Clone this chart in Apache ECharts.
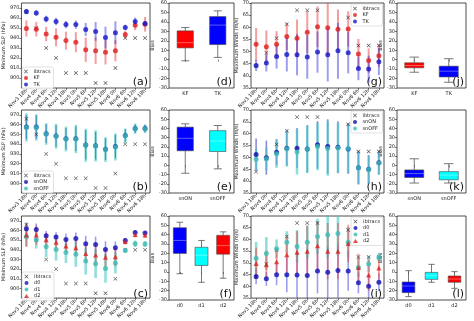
<!DOCTYPE html>
<html><head><meta charset="utf-8">
<script src="https://cdn.jsdelivr.net/npm/echarts@6/dist/echarts.min.js"></script>
<style>html,body{margin:0;padding:0;background:#fff}#chart{width:474px;height:321px}</style>
</head><body><div id="chart"></div>
<script>
// Forecast times (6-hourly)
const times = ['Nov3 18h','Nov4 0h','Nov4 6h','Nov4 12h','Nov4 18h','Nov5 0h','Nov5 6h','Nov5 12h','Nov5 18h','Nov6 0h','Nov6 6h','Nov6 12h','Nov6 18h'];

// Tick values
const slpTicks = [900, 910, 920, 930, 940, 950, 960, 970];
const windTicks = [35, 40, 45, 50, 55, 60, 65, 70];
const biasTicks = [-30, -20, -10, 0, 10, 20, 30, 40, 50, 60];

// Best-track (IBTrACS)
const ibtracsSlp = [966, 950, 930, 920, 905, 905, 905, 895, 895, 910, 940, 940, 940];
const ibtracsWind = [44, 49.5, 55.5, 61.3, 67, 67, 67, null, null, 64, 52.5, 52.5, 52.5];

// Minimum SLP ensemble means and spreads
const kfSlp = [949.5, 948.8, 944, 940.7, 937.4, 935.8, 928.3, 927.3, 925.7, 927.3, 943.6, 952.7, 953.7];
const kfSlpSd = [8.1, 7.3, 7.3, 9, 9, 10, 12.2, 13.3, 12.2, 10.6, 3.3, 4.9, 7.3];
const tkSlp = [966.4, 965, 959, 956.6, 953.4, 953.4, 948.5, 946.6, 940.4, 945.3, 950.5, 956.6, 954.4];
const tkSlpSd = [2.8, 2.8, 3.3, 3.7, 3.7, 4.1, 6.5, 9.4, 10.9, 11.4, 2.8, 3.9, 2.6];

const snOnSlp = [957.5, 957.5, 950.8, 948.3, 945.6, 945.5, 939.2, 938.4, 934.8, 937.5, 948.9, 956, 956];
const snOnSlpSd = [12.5, 12, 9.5, 11, 11, 12.5, 15, 14, 11, 12, 6.5, 4.5, 4];
const snOffSlp = [957.1, 957.1, 950.4, 948, 945.3, 945.3, 938.9, 938.2, 934.5, 937.2, 948.7, 955.8, 955.8];
const snOffSlpSd = [14.4, 13.5, 11, 12.7, 12.7, 14.4, 16.9, 16, 12.7, 13.9, 7.3, 5.1, 4.2];

const d0Slp = [961.8, 961.1, 954.6, 953.2, 950.6, 951.6, 946.3, 945.4, 940.4, 942.1, 949.6, 957.8, 957.5];
const d0SlpSd = [6.6, 6.1, 4.9, 4.9, 6.2, 6.2, 8.2, 8.2, 8.5, 6.6, 2.8, 2.5, 2];
const d1Slp = [953.6, 950.3, 943.1, 940.4, 937.1, 935.5, 928.3, 925.6, 920.7, 926.3, 939.4, 946.3, 946];
const d1SlpSd = [9.9, 9, 10.7, 11.5, 10.7, 13.1, 14, 14.8, 14.8, 10.7, 2.5, 3.3, 3];
const d2Slp = [955.2, 955.2, 950.3, 947.7, 944, 942.1, 936.2, 934.5, 932.2, 932.9, 948.6, 955.9, 955.2];
const d2SlpSd = [12.3, 9.9, 7.4, 7.4, 7.4, 8.2, 9, 10.7, 9.9, 9.9, 3.3, 3, 2.6];

// Maximum wind ensemble means and spreads
const kfWind = [53, 52, 53, 56.2, 55.5, 58, 60.2, 59.8, 59.2, 59.3, 49, 46.3, 48.3];
const kfWindSd = [6.7, 6.7, 5.4, 5.6, 7.7, 8.6, 8.4, 11, 8.1, 7.3, 6.2, 5, 4.6];
const tkWind = [44.3, 45.3, 48, 48.8, 48.7, 47.8, 49.8, 48.7, 50.3, 49.5, 43, 42.8, 45.8];
const tkWindSd = [2.3, 3.5, 5, 7, 8.5, 9, 8.5, 11, 11.5, 8.5, 4.8, 5.5, 5.5];

const snOnWind = [51.2, 49.9, 52.2, 53.9, 53.9, 53.6, 55.3, 54.6, 54.3, 53.6, 45.7, 45, 47.8];
const snOnWindSd = [6.8, 7.2, 5.5, 7.5, 8.5, 10, 10, 11.5, 11, 10.5, 7, 6, 5];
const snOffWind = [49.2, 49.4, 51.6, 53.7, 52.3, 53.5, 54.6, 53.8, 54, 53.8, 45.6, 44.9, 47.7];
const snOffWindSd = [4.5, 4.8, 6, 7.5, 9.5, 10, 10, 11.5, 10.5, 10.5, 7, 6, 5];

const d0Wind = [44.2, 43.2, 45, 45, 44.8, 44.6, 46.5, 46, 46.8, 46.6, 41.5, 40, 41.8];
const d0WindSd = [3.3, 3, 4.5, 7.5, 10, 10.5, 9.5, 11, 11.5, 8.5, 4.5, 5, 3.8];
const d1Wind = [52, 54, 56, 58.8, 57, 58.8, 61.3, 62, 62.5, 58.8, 48, 49.5, 52.3];
const d1WindSd = [7, 7, 4, 4.7, 7, 7, 7.5, 10, 9.5, 6.5, 4, 3.5, 2];
const d2Wind = [49.8, 49.2, 50.5, 53.5, 54.5, 55, 57.3, 55, 55, 58.3, 48, 44.8, 47.8];
const d2WindSd = [6.7, 6, 5.5, 7.5, 9, 11, 10.5, 12, 12, 8, 6, 6.7, 4.8];

// Bias box statistics: [low whisker, Q1, median, Q3, high whisker]
const cuCats = ['KF', 'TK'];
const snCats = ['snON', 'snOFF'];
const dCats = ['d0', 'd1', 'd2'];
const slpBiasCu = [[-1.2, 12.5, 18, 30.5, 34], [2.4, 16, 36.6, 45.6, 51.7]];
const slpBiasCuOut = [[0, -15.5]];
const slpBiasSn = [[-8.6, 15.8, 29.3, 41.4, 45], [-3.8, 15, 26.3, 37.6, 43.2]];
const slpBiasD = [[-1.8, 19.9, 33.8, 47.4, 53.3], [-11, 7, 18, 26.5, 33.8], [-6.6, 19.1, 28.3, 39.3, 43]];
const windBiasCu = [[-13.3, -8.6, -6.2, -3.3, 2.7], [-23.9, -18.3, -12.2, -6.9, 1]];
const windBiasCuOut = [[0, 9.1]];
const windBiasSn = [[-19.2, -13.2, -8.9, -5, 7.1], [-19.2, -15.7, -10.7, -6.8, 1.8]];
const windBiasD = [[-26.4, -22.1, -15, -10.7, 1.4], [-11, -7.9, -3.6, -0.4, 8.2], [-17.5, -11, -7.5, -4.3, 0.4]];
const windBiasDOut = [[2, 6.4]];

// ---- styling ----
const FONT = 'DejaVu Sans';
const INK = '#222';
const RED = '#e01e1e', RED_BAR = 'rgba(238,60,60,0.5)';
const BLUE = '#1616c8', BLUE_BAR = 'rgba(40,40,220,0.45)';
const TEAL = '#3dbdb5', TEAL_BAR = 'rgba(70,200,195,0.6)';
const BOX_RED = '#ff0000', BOX_BLUE = '#0000ff', BOX_CYAN = '#00ffff';
const CROSS = 'path://M1,0L5,4L9,0L10,1L6,5L10,9L9,10L5,6L1,10L0,9L4,5L0,1Z';

const grids = [], xAxes = [], yAxes = [], series = [], legends = [], graphics = [];

function addPanel(rect, cats, rotate, yMin, yMax, ticks, yName, nameGap) {
  grids.push(Object.assign({ show: true, borderColor: INK, borderWidth: 0.8, containLabel: false }, rect));
  const g = grids.length - 1;
  xAxes.push({
    type: 'category', gridIndex: g, data: cats, boundaryGap: true,
    axisLine: { show: false },
    axisTick: { show: true, alignWithLabel: true, length: 2, lineStyle: { color: INK, width: 0.6 } },
    axisLabel: { interval: 0, rotate: rotate, fontSize: 5, color: INK, margin: rotate ? 2 : 3, fontFamily: FONT },
    splitLine: { show: false }
  });
  yAxes.push({
    type: 'value', gridIndex: g, min: yMin, max: yMax,
    axisLine: { show: false },
    axisTick: { show: true, length: 2, customValues: ticks, lineStyle: { color: INK, width: 0.6 } },
    axisLabel: { fontSize: 5, color: INK, margin: 2, fontFamily: FONT, customValues: ticks },
    splitLine: { show: false },
    name: yName, nameLocation: 'middle', nameRotate: 90, nameGap: nameGap,
    nameTextStyle: { fontSize: 5, color: INK, fontFamily: FONT }
  });
  return g;
}

function errBars(g, mean, sd, color, width, z) {
  series.push({
    type: 'custom', xAxisIndex: g, yAxisIndex: g, clip: true, silent: true, z: z,
    data: mean.map((m, i) => [i, m, sd[i]]),
    encode: { x: 0, y: 1 },
    renderItem: (params, api) => {
      const x = api.value(0), m = api.value(1), s = api.value(2);
      const a = api.coord([x, m - s]), b = api.coord([x, m + s]);
      return { type: 'line', shape: { x1: a[0], y1: a[1], x2: b[0], y2: b[1] }, style: { stroke: color, lineWidth: width } };
    }
  });
}

function dots(g, name, vals, symbol, size, color, z) {
  const data = [];
  vals.forEach((v, i) => { if (v !== null) data.push([i, v]); });
  series.push({
    type: 'scatter', name: name, xAxisIndex: g, yAxisIndex: g, symbol: symbol, symbolSize: size,
    itemStyle: { color: color }, data: data, z: z, silent: true, clip: true
  });
}

function boxes(g, stats, colors, frac, outliers) {
  series.push({
    type: 'custom', xAxisIndex: g, yAxisIndex: g, silent: true, z: 2,
    data: stats.map((s, i) => [i].concat(s)),
    encode: { x: 0, y: [1, 2, 3, 4, 5] },
    renderItem: (params, api) => {
      const i = api.value(0);
      const p = [1, 2, 3, 4, 5].map(k => api.coord([i, api.value(k)]));
      const cx = p[0][0];
      const bw = api.size([1, 0])[0] * frac;
      const cap = bw * 0.5;
      const ln = (x1, y1, x2, y2, c, w) => ({ type: 'line', shape: { x1, y1, x2, y2 }, style: { stroke: c, lineWidth: w } });
      return { type: 'group', children: [
        ln(cx, p[0][1], cx, p[1][1], '#555', 0.8),
        ln(cx, p[3][1], cx, p[4][1], '#555', 0.8),
        ln(cx - cap / 2, p[0][1], cx + cap / 2, p[0][1], '#555', 0.8),
        ln(cx - cap / 2, p[4][1], cx + cap / 2, p[4][1], '#555', 0.8),
        { type: 'rect', shape: { x: cx - bw / 2, y: p[3][1], width: bw, height: p[1][1] - p[3][1] },
          style: { fill: colors[i], stroke: '#444', lineWidth: 0.6 } },
        ln(cx - bw / 2, p[2][1], cx + bw / 2, p[2][1], 'rgba(255,255,255,0.45)', 0.8)
      ] };
    }
  });
  if (outliers) {
    series.push({
      type: 'scatter', xAxisIndex: g, yAxisIndex: g, symbol: 'emptyCircle', symbolSize: 3.5, silent: true, z: 3,
      itemStyle: { color: '#fff', borderColor: '#555', borderWidth: 0.7 }, data: outliers
    });
  }
}

function addLegend(names, rect) {
  legends.push(Object.assign({
    orient: 'vertical', data: names, itemWidth: 5, itemHeight: 4, itemGap: 1.5,
    textStyle: { fontSize: 5, color: INK, fontFamily: FONT }, selectedMode: false,
    backgroundColor: 'rgba(255,255,255,0.85)', borderColor: '#ccc', borderWidth: 0.6, borderRadius: 2,
    padding: [2, 3, 2, 2]
  }, rect));
}

function letter(txt, rect) {
  graphics.push({ type: 'text', x: rect.left + rect.width - 2, y: rect.top + rect.height - 0.5, silent: true,
    style: { text: txt, fontSize: 11, fontFamily: FONT, fill: '#111', align: 'right', verticalAlign: 'bottom' } });
}

// Row rectangles
const R1 = { top: 3, height: 85 }, R2 = { top: 110, height: 83 }, R3 = { top: 216, height: 84 };
const C1 = { left: 20, width: 130 }, C2 = { left: 169, width: 65 }, C3 = { left: 251, width: 133 }, C4 = { left: 397, width: 69 };
const rc = (c, r) => Object.assign({}, c, r);

// (a) Minimum SLP, cumulus schemes
let rA = rc(C1, R1), gA = addPanel(rA, times, 45, 890, 975, slpTicks, 'Minimum SLP (hPa)', 13);
errBars(gA, kfSlp, kfSlpSd, RED_BAR, 2, 2);
errBars(gA, tkSlp, tkSlpSd, BLUE_BAR, 2, 2);
dots(gA, 'ibtracs', ibtracsSlp, CROSS, 4, '#222', 3);
dots(gA, 'KF', kfSlp, 'circle', 5, RED, 4);
dots(gA, 'TK', tkSlp, 'circle', 5, BLUE, 4);
addLegend(['ibtracs', 'KF', 'TK'], { left: 22, top: 67 });
letter('(a)', rA);

// (b) Minimum SLP, spectral nudging
let rB = rc(C1, R2), gB = addPanel(rB, times, 45, 890, 975, slpTicks, 'Minimum SLP (hPa)', 13);
errBars(gB, snOnSlp, snOnSlpSd, 'rgba(20,20,170,0.8)', 1.2, 2);
errBars(gB, snOffSlp, snOffSlpSd, TEAL_BAR, 2.6, 2);
dots(gB, 'ibtracs', ibtracsSlp, CROSS, 4, '#222', 3);
dots(gB, 'snON', snOnSlp, 'circle', 5, '#0c0ca8', 4);
dots(gB, 'snOFF', snOffSlp, 'circle', 5, TEAL, 4);
addLegend(['ibtracs', 'snON', 'snOFF'], { left: 22, top: 171 });
letter('(b)', rB);

// (c) Minimum SLP, domain configurations
let rC = rc(C1, R3), gC = addPanel(rC, times, 45, 890, 975, slpTicks, 'Minimum SLP (hPa)', 13);
errBars(gC, d0Slp, d0SlpSd, BLUE_BAR, 1.6, 2);
errBars(gC, d1Slp, d1SlpSd, TEAL_BAR, 2.6, 2);
errBars(gC, d2Slp, d2SlpSd, RED_BAR, 1.8, 2);
dots(gC, 'ibtracs', ibtracsSlp, CROSS, 4, '#222', 3);
dots(gC, 'd0', d0Slp, 'circle', 5, '#1010b8', 4);
dots(gC, 'd1', d1Slp, 'circle', 5, TEAL, 4);
dots(gC, 'd2', d2Slp, 'triangle', 5, RED, 4);
addLegend(['ibtracs', 'd0', 'd1', 'd2'], { left: 22, top: 272 });
letter('(c)', rC);

// (d)-(f) SLP bias
let rD = rc(C2, R1), gD = addPanel(rD, cuCats, 0, -30, 60, biasTicks, 'Bias', 11);
boxes(gD, slpBiasCu, [BOX_RED, BOX_BLUE], 0.5, slpBiasCuOut);
letter('(d)', rD);
let rE = rc(C2, R2), gE = addPanel(rE, snCats, 0, -30, 60, biasTicks, 'Bias', 11);
boxes(gE, slpBiasSn, [BOX_BLUE, BOX_CYAN], 0.5);
letter('(e)', rE);
let rF = rc(C2, R3), gF = addPanel(rF, dCats, 0, -30, 60, biasTicks, 'Bias', 11);
boxes(gF, slpBiasD, [BOX_BLUE, BOX_CYAN, BOX_RED], 0.6);
letter('(f)', rF);

// (g) Maximum winds, cumulus schemes
let rG = rc(C3, R1), gG = addPanel(rG, times, 45, 35, 70, windTicks, 'Maximum Winds (m/s)', 10);
errBars(gG, kfWind, kfWindSd, RED_BAR, 2, 2);
errBars(gG, tkWind, tkWindSd, BLUE_BAR, 2, 2);
dots(gG, 'ibtracs', ibtracsWind, CROSS, 4, '#222', 3);
dots(gG, 'KF', kfWind, 'circle', 5, RED, 4);
dots(gG, 'TK', tkWind, 'circle', 5, BLUE, 4);
addLegend(['ibtracs', 'KF', 'TK'], { left: 351, top: 4 });
letter('(g)', rG);

// (h) Maximum winds, spectral nudging
let rH = rc(C3, R2), gH = addPanel(rH, times, 45, 35, 70, windTicks, 'Maximum Winds (m/s)', 10);
errBars(gH, snOnWind, snOnWindSd, 'rgba(60,60,200,0.6)', 1.6, 2);
errBars(gH, snOffWind, snOffWindSd, TEAL_BAR, 2.6, 2);
dots(gH, 'ibtracs', ibtracsWind, CROSS, 4, '#222', 3);
dots(gH, 'snON', snOnWind, 'circle', 5, '#0c0ca8', 4);
dots(gH, 'snOFF', snOffWind, 'circle', 5, TEAL, 4);
addLegend(['ibtracs', 'snON', 'snOFF'], { left: 351, top: 111 });
letter('(h)', rH);

// (i) Maximum winds, domain configurations
let rI = rc(C3, R3), gI = addPanel(rI, times, 45, 35, 70, windTicks, 'Maximum Winds (m/s)', 10);
errBars(gI, d0Wind, d0WindSd, BLUE_BAR, 1.6, 2);
errBars(gI, d1Wind, d1WindSd, TEAL_BAR, 2.6, 2);
errBars(gI, d2Wind, d2WindSd, RED_BAR, 1.8, 2);
dots(gI, 'ibtracs', ibtracsWind, CROSS, 4, '#222', 3);
dots(gI, 'd0', d0Wind, 'circle', 5, '#1010b8', 4);
dots(gI, 'd1', d1Wind, 'circle', 5, TEAL, 4);
dots(gI, 'd2', d2Wind, 'triangle', 5, RED, 4);
addLegend(['ibtracs', 'd0', 'd1', 'd2'], { left: 351, top: 217 });
letter('(i)', rI);

// (j)-(l) wind bias
let rJ = rc(C4, R1), gJ = addPanel(rJ, cuCats, 0, -30, 60, biasTicks, 'Bias', 11);
boxes(gJ, windBiasCu, [BOX_RED, BOX_BLUE], 0.55, windBiasCuOut);
letter('(j)', rJ);
let rK = rc(C4, R2), gK = addPanel(rK, snCats, 0, -30, 60, biasTicks, 'Bias', 11);
boxes(gK, windBiasSn, [BOX_BLUE, BOX_CYAN], 0.55);
letter('(k)', rK);
let rL = rc(C4, R3), gL = addPanel(rL, dCats, 0, -30, 60, biasTicks, 'Bias', 11);
boxes(gL, windBiasD, [BOX_BLUE, BOX_CYAN, BOX_RED], 0.55, windBiasDOut);
letter('(l)', rL);

const chart = echarts.init(document.getElementById('chart'), null, { renderer: 'canvas' });
chart.setOption({
  animation: false,
  backgroundColor: '#fff',
  textStyle: { fontFamily: FONT },
  grid: grids, xAxis: xAxes, yAxis: yAxes, legend: legends, series: series,
  graphic: graphics
});
</script></body></html>
